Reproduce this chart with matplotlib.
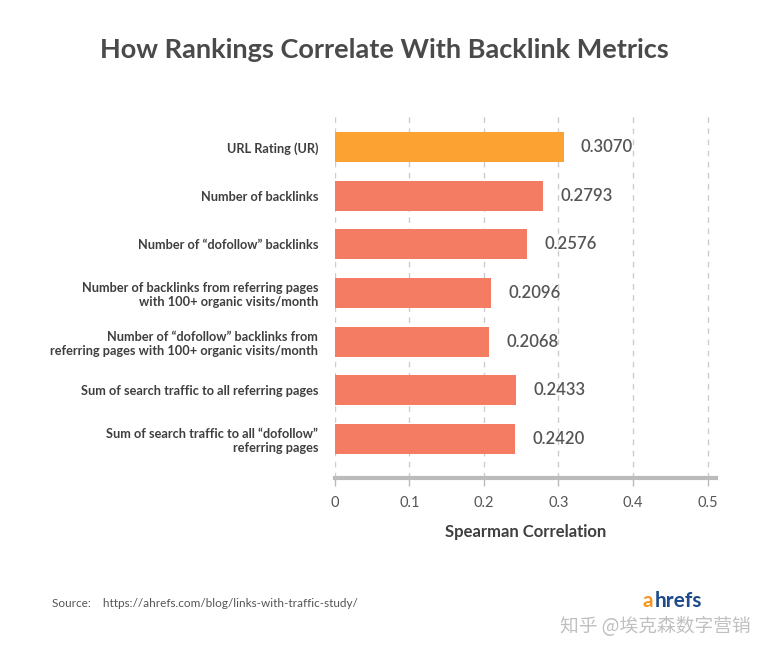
import matplotlib
matplotlib.use("Agg")
import matplotlib.pyplot as plt

# data
metrics = [
    "URL Rating (UR)",
    "Number of backlinks",
    "Number of \u201cdofollow\u201d backlinks",
    "Number of backlinks from referring pages\nwith 100+ organic visits/month",
    "Number of \u201cdofollow\u201d backlinks from\nreferring pages with 100+ organic visits/month",
    "Sum of search traffic to all referring pages",
    "Sum of search traffic to all \u201cdofollow\u201d\nreferring pages",
]
spearman = [0.3070, 0.2793, 0.2576, 0.2096, 0.2068, 0.2433, 0.2420]
xticks = [0, 0.1, 0.2, 0.3, 0.4, 0.5]
xticklabels = ["0", "0.1", "0.2", "0.3", "0.4", "0.5"]

ORANGE, CORAL = "#FCA233", "#F47C63"
DARK, MID = "#3f3f3f", "#555555"

plt.rcParams["font.family"] = ["Lato", "DejaVu Sans"]

fig = plt.figure(figsize=(7.68, 6.5), dpi=100)
ax = fig.add_axes([0.436, 0.265, 0.496, 0.558])

y = list(range(len(metrics)))
colors = [ORANGE] + [CORAL] * (len(metrics) - 1)
ax.barh(y, spearman, height=0.62, color=colors, zorder=3)
for yi, v in zip(y, spearman):
    ax.text(v + 0.023, yi, f"{v:.4f}", va="center", ha="left", fontsize=12,
            fontweight="semibold", color=MID, zorder=4)

ax.set_xlim(0, 0.511)
ax.set_ylim(6.8, -0.66)
ax.set_yticks(y)
ax.set_yticklabels(metrics, fontsize=9.2, fontweight="bold", color=DARK, multialignment="right")
ax.tick_params(axis="y", length=0, pad=12)
ax.set_xticks(xticks)
ax.set_xticklabels(xticklabels, fontsize=10.5, color=MID)
ax.tick_params(axis="x", length=6, width=1, color="#bbbbbb", pad=7)

for s in ["top", "right", "left"]:
    ax.spines[s].set_visible(False)
ax.spines["bottom"].set_color("#bbbbbb")
ax.spines["bottom"].set_linewidth(3)

ax.xaxis.grid(True, ls=(0, (4, 4)), color="#cccccc", lw=1, zorder=0)
ax.set_axisbelow(True)
ax.set_xlabel("Spearman Correlation", fontsize=12, fontweight="bold", color=DARK, labelpad=10)

fig.text(0.5, 0.923, "How Rankings Correlate With Backlink Metrics", ha="center", va="center",
         fontsize=19.5, fontweight="bold", color="#4a4a4a")
fig.text(0.068, 0.072, "Source:    https://ahrefs.com/blog/links-with-traffic-study/", ha="left", va="center",
         fontsize=8.5, color=MID)
fig.text(0.836, 0.075, "a", ha="left", va="center", fontsize=15, fontweight="bold", color="#F8951D")
fig.text(0.853, 0.075, "hrefs", ha="left", va="center", fontsize=15, fontweight="bold", color="#1E4C8A")
fig.text(0.977, 0.036, "知乎 @埃克森数字营销", ha="right", va="center", fontsize=13.5, color="#b5b5b5",
         family=["Noto Sans CJK SC", "DejaVu Sans"], alpha=0.85)

fig.savefig("out.png", dpi=100)
